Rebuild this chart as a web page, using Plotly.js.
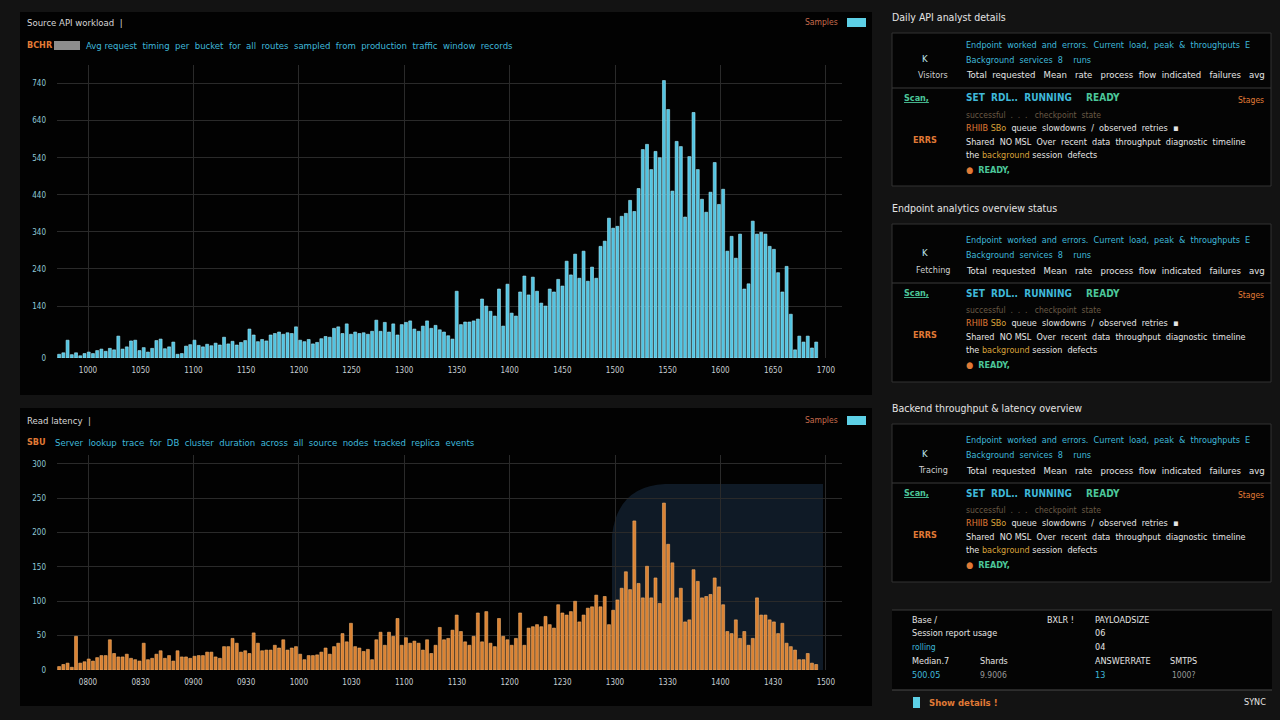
<!DOCTYPE html>
<html><head><meta charset="utf-8">
<script src="https://cdn.plot.ly/plotly-3.0.1.min.js"></script>
<style>html,body{margin:0;padding:0;background:#131313;overflow:hidden}#chart{width:1280px;height:720px}</style>
</head><body><div id="chart"></div>
<script>
// ---------- data ----------
const topValues = [
 10,14,48,9,14,6,12,16,12,20,
 24,18,26,22,59,24,30,46,48,20,
 28,16,26,47,51,25,30,43,10,12,
 32,36,48,34,30,37,33,40,35,56,
 38,45,35,42,47,78,62,44,50,46,
 62,66,70,64,68,66,84,48,44,50,
 38,42,52,58,56,80,84,66,92,64,
 70,66,68,64,72,102,72,96,70,92,
 62,90,96,100,78,72,86,100,80,88,
 76,70,60,51,180,90,97,97,100,105,
 159,140,126,113,186,86,199,121,113,178,
 221,170,218,180,148,140,186,178,212,194,
 261,224,280,215,288,207,245,215,301,315,
 377,350,355,382,390,425,395,457,562,576,
 508,557,540,748,670,450,584,570,380,543,
 662,508,428,393,447,527,414,455,288,328,
 269,334,186,200,369,334,339,334,301,293,
 230,178,247,118,22,59,43,59,27,43
];
const bottomValues = [
 5,8,10,4,49,10,12,16,13,18,
 21,21,44,24,19,19,23,17,15,13,
 39,15,17,23,28,17,21,13,28,19,
 19,17,20,21,21,26,26,19,17,34,
 34,46,39,26,28,24,54,39,28,29,
 29,36,32,44,29,32,34,23,15,21,
 21,22,26,32,23,34,39,53,41,68,
 34,32,27,30,15,44,55,36,55,49,
 75,36,47,39,42,39,29,44,24,36,
 62,44,46,58,80,56,41,36,49,83,
 41,85,39,34,75,49,44,36,46,83,
 36,61,63,66,63,78,66,61,95,83,
 80,85,100,70,80,90,92,109,92,107,
 66,87,102,119,143,117,217,126,105,151,
 105,134,97,243,183,156,105,119,70,73,
 146,129,105,107,110,134,121,95,56,53,
 73,46,56,36,46,105,80,80,73,70,
 53,68,39,34,29,15,15,24,10,8
];
const topXLabels = ['1000','1050','1100','1150','1200','1250','1300','1350','1400','1450','1500','1550','1600','1650','1700'];
const bottomXLabels = ['0800','0830','0900','0930','1000','1030','1100','1130','1200','1230','1300','1330','1400','1430','1500'];
const topYTicks = [0,140,240,340,440,540,640,740];
const bottomYTicks = [0,50,100,150,200,250,300];

// ---------- helpers ----------
const W = 1280, H = 720;
const fx = p => p / W, fy = p => 1 - p / H;
const FONT = "'DejaVu Sans Condensed','Liberation Sans Narrow','DejaVu Sans',sans-serif";
const CYAN = '#3fb8da', ORANGE = '#e07a36', WHITE = '#e4e4e4', GREEN = '#4cc79a';
const shapes = [], ann = [];
function R(x0, y0, x1, y1, fill, line, lw) {
  shapes.push({type:'rect', xref:'paper', yref:'paper', x0:fx(x0), x1:fx(x1), y0:fy(y1), y1:fy(y0),
    fillcolor:fill, line:{color:line || 'rgba(0,0,0,0)', width:lw || 0}, layer:'below'});
}
function L(x0, y0, x1, y1, color, w) {
  shapes.push({type:'line', xref:'paper', yref:'paper', x0:fx(x0), x1:fx(x1), y0:fy(y0), y1:fy(y1),
    line:{color:color, width:w || 1}, layer:'below'});
}
function T(x, y, text, color, size, anchor) {
  ann.push({xref:'paper', yref:'paper', x:fx(x), y:fy(y), text:text, showarrow:false,
    xanchor:anchor || 'left', yanchor:'middle', font:{family:FONT, size:size || 9, color:color}});
}
const sp = (c, t) => '<span style="color:' + c + '">' + t + '</span>';

// ---------- panels ----------
R(20, 12, 872, 395, '#020202');
R(20, 408, 872, 706, '#020202');
// highlight region in lower chart
shapes.push({type:'path', xref:'paper', yref:'paper', layer:'below', fillcolor:'#0f1a26', line:{width:0},
  path:'M ' + fx(612) + ' ' + fy(670) + ' L ' + fx(612) + ' ' + fy(535) + ' Q ' + fx(618) + ' ' + fy(486) + ' ' + fx(665) + ' ' + fy(484) +
       ' L ' + fx(823) + ' ' + fy(484) + ' L ' + fx(823) + ' ' + fy(670) + ' Z'});

// chart headers
T(25, 22, 'Source API workload  |', '#d6d6d6', 9.5);
T(25, 45, sp(ORANGE, '<b>BCHR</b>'), ORANGE, 9);
R(54, 41, 80, 50, '#8d8d8d');
T(84, 45, 'Avg request  timing  per  bucket  for  all  routes  sampled  from  production  traffic  window  records', CYAN, 9.5);
T(840, 22, 'Samples', '#c76a4c', 8.5, 'right');
R(847, 18, 866, 27, '#5dd0e6');

T(25, 420, 'Read latency  |', '#d6d6d6', 9.5);
T(25, 442, sp(ORANGE, '<b>SBU</b>'), ORANGE, 9);
T(53, 442, 'Server  lookup  trace  for  DB  cluster  duration  across  all  source  nodes  tracked  replica  events', CYAN, 9.5);
T(840, 420, 'Samples', '#c76a4c', 8.5, 'right');
R(847, 416, 866, 425, '#5dd0e6');

// ---------- right side boxes ----------
const boxTitles = ['Daily API analyst details', 'Endpoint analytics overview status', 'Backend throughput & latency overview'];
const boxLabels = ['Visitors', 'Fetching', 'Tracing'];
const boxTop = [33, 224, 424], boxBot = [186, 382, 582], titleY = [17, 208, 408], offs = [0, 195, 395];
for (let k = 0; k < 3; k++) {
  const o = offs[k];
  T(890, titleY[k], boxTitles[k], WHITE, 10.5);
  R(892, boxTop[k], 1271, boxBot[k], '#040404', '#333333', 1);
  L(892, 88 + o, 1271, 88 + o, '#3a3a3a', 1.2);
  T(925, 58 + o, 'K', '#bfe6f0', 9.5, 'center');
  T(933, 75 + o, boxLabels[k], '#cfcfcf', 9, 'center');
  T(964, 45 + o, 'Endpoint  worked  and  errors.  Current  load,  peak  &  throughputs  E', CYAN, 9);
  T(964, 60 + o, 'Background  services  8    runs', CYAN, 9);
  T(964, 75 + o, 'Total  requested   Mean   rate   process  flow  indicated   failures   avg', WHITE, 9.5);
  T(902, 98 + o, '<b><u>Scan,</u></b>', GREEN, 9);
  T(964, 98 + o, sp(CYAN, '<b>SET  RDL..  RUNNING</b>') + '     ' + sp(GREEN, '<b>READY</b>'), CYAN, 10);
  T(1266, 100 + o, 'Stages', ORANGE, 8.5, 'right');
  T(964, 115 + o, 'successful  .  .  .   checkpoint  state', '#6a5a44', 8.5);
  T(964, 128 + o, sp(ORANGE, 'RHIIB') + ' ' + sp('#d9a23a', 'SBo') + sp(WHITE, '  queue  slowdowns  /  observed  retries  ▪'), WHITE, 9);
  T(925, 140 + o, '<b>ERRS</b>', ORANGE, 9, 'center');
  T(964, 142 + o, 'Shared  NO MSL  Over  recent  data  throughput  diagnostic  timeline', WHITE, 9);
  T(964, 155 + o, 'the ' + sp('#d9a23a', 'background') + ' session  defects', WHITE, 9);
  T(964, 170 + o, sp(ORANGE, '●') + '  ' + sp(GREEN, '<b>READY,</b>'), WHITE, 9);
}

// bottom right summary box
R(892, 610, 1272, 690, '#040404');
L(892, 610, 1272, 610, '#3a3a3a', 1.2);
L(892, 690, 1272, 690, '#4a4a4a', 1.2);
T(910, 620, 'Base /', WHITE, 9);
T(910, 633, 'Session report usage', WHITE, 9);
T(910, 647, 'rolling', CYAN, 8.5);
T(910, 661, 'Median.7', WHITE, 9);
T(910, 675, '500.05', CYAN, 9);
T(978, 661, 'Shards', WHITE, 9);
T(978, 675, '9.9006', '#9a9a9a', 8.5);
T(1045, 620, 'BXLR !', WHITE, 9);
T(1093, 620, 'PAYLOADSIZE', WHITE, 9);
T(1093, 633, '06', WHITE, 9);
T(1093, 647, '04', WHITE, 9);
T(1093, 661, 'ANSWERRATE', WHITE, 9);
T(1093, 675, '13', CYAN, 9);
T(1168, 661, 'SMTPS', WHITE, 9);
T(1170, 675, '1000?', '#9a9a9a', 8.5);
R(913, 697, 920, 708, '#5dd0e6');
T(927, 702, '<b>Show details !</b>', ORANGE, 9.5);
T(1268, 702, 'SYNC', WHITE, 9, 'right');

// ---------- axes ----------
const xRange = [-0.5, 185.1];
const tick0 = 6.83, tickStep = 12.46;
const topXVals = topXLabels.map((_, k) => tick0 + k * tickStep);
const botXVals = bottomXLabels.map((_, k) => tick0 + k * tickStep);
const gridVals = topXVals.filter((_, k) => k % 2 === 0);
const idx = topValues.map((_, i) => i);
const idxB = bottomValues.map((_, i) => i);

const tickFontX = {family:FONT, size:8, color:'#c8cfd2'};
const tickFontY = {family:FONT, size:8, color:'#8fc8d6'};
const GRID = '#2a2a2a';

const layout = {
  width: W, height: H, margin:{l:0, r:0, t:0, b:0},
  paper_bgcolor:'#131313', plot_bgcolor:'rgba(0,0,0,0)',
  showlegend:false, bargap:0.3, hovermode:false,
  xaxis:{domain:[fx(57), fx(842)], anchor:'y', range:xRange, tickvals:topXVals, ticktext:topXLabels,
    showgrid:false, zeroline:false, showline:false, ticks:'', tickfont:tickFontX, ticklabelstandoff:6},
  xaxis2:{overlaying:'x', anchor:'y', range:xRange, tickvals:gridVals, showticklabels:false,
    showgrid:true, gridcolor:GRID, gridwidth:1, zeroline:false, showline:false, ticks:''},
  yaxis:{domain:[fy(358), fy(65)], anchor:'x', range:[0, 790], tickvals:topYTicks,
    showgrid:true, gridcolor:GRID, zeroline:false, showline:false, ticks:'', tickfont:tickFontY, ticklabelstandoff:10},
  xaxis3:{domain:[fx(57), fx(842)], anchor:'y3', range:xRange, tickvals:botXVals, ticktext:bottomXLabels,
    showgrid:false, zeroline:false, showline:false, ticks:'', tickfont:tickFontX, ticklabelstandoff:6},
  xaxis4:{overlaying:'x3', anchor:'y3', range:xRange, tickvals:gridVals, showticklabels:false,
    showgrid:true, gridcolor:GRID, gridwidth:1, zeroline:false, showline:false, ticks:''},
  yaxis3:{domain:[fy(670), fy(455)], anchor:'x3', range:[0, 313], tickvals:bottomYTicks,
    showgrid:true, gridcolor:GRID, zeroline:false, showline:false, ticks:'', tickfont:tickFontY, ticklabelstandoff:10},
  shapes: shapes, annotations: ann
};

const data = [
  {type:'bar', x:idx, y:topValues, xaxis:'x', yaxis:'y',
   marker:{color:'#50c4e2', line:{color:'#a6e8f6', width:0.6}}},
  {type:'scatter', x:[], y:[], xaxis:'x2', yaxis:'y', hoverinfo:'skip'},
  {type:'bar', x:idxB, y:bottomValues, xaxis:'x3', yaxis:'y3',
   marker:{color:'#db8232', line:{color:'#f2b06c', width:0.6}}},
  {type:'scatter', x:[], y:[], xaxis:'x4', yaxis:'y3', hoverinfo:'skip'}
];
Plotly.newPlot('chart', data, layout, {displayModeBar:false, staticPlot:true});
</script>
</body></html>
